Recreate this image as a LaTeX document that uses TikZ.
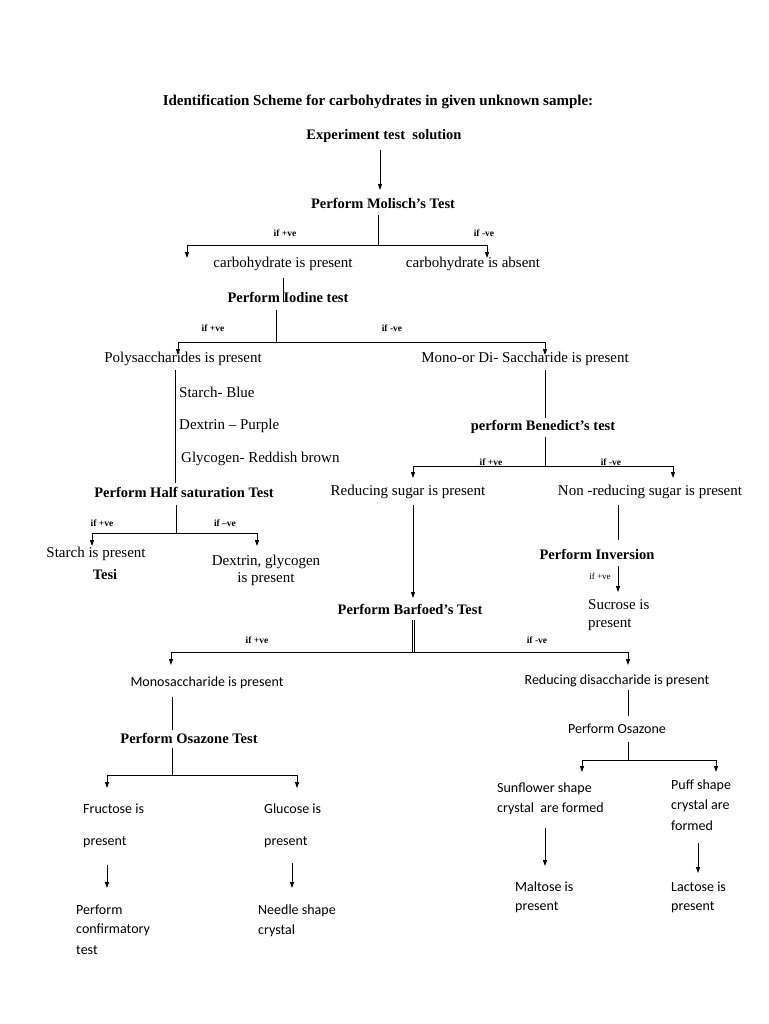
\documentclass[tikz,border=0pt]{standalone}
\usepackage{fontspec}
\setmainfont{Liberation Serif}
\newfontfamily\carlitofont{Carlito}
\usetikzlibrary{arrows.meta}
\begin{document}
\begin{tikzpicture}[x=1pt,y=-1pt,
  t/.style={inner sep=0pt,font=\fontsize{15}{17}\selectfont},
  b/.style={inner sep=0pt,font=\fontsize{14.5}{17}\selectfont\bfseries},
  sm/.style={inner sep=0pt,font=\fontsize{9.5}{10}\selectfont\bfseries},
  c/.style={inner sep=0pt,anchor=west,font=\carlitofont\fontsize{14}{16}\selectfont},
  ln/.style={line width=0.8pt},
  ar/.style={line width=0.8pt,-{Triangle[length=6pt,width=4pt]}}]
\useasboundingbox (0,0) rectangle (768,1024);
\node[b,font=\fontsize{15}{17}\selectfont\bfseries] (title) at (378,102) {Identification Scheme for carbohydrates in given unknown sample:};
\node[b] (exp) at (384,136) {Experiment test\ \ solution};
\node[b] (mol) at (383,203) {Perform Molisch's Test};
\draw[ar] (380,150) -- (380,190);
\draw[ln] (378,215) -- (378,245);
\draw[ar] (187,245) -- (187,258); \draw[ln] (187,245) -- (487,245); \draw[ar] (487,245) -- (487,258);
\node[sm] (p1) at (285,233) {if +ve}; \node[sm] (n1) at (484,233) {if -ve};
\node[t] (cp) at (283,264) {carbohydrate is present};
\node[t] (ca) at (473,264) {carbohydrate is absent};
\draw[ln] (283,278) -- (283,302);
\node[b] (iod) at (288,297) {Perform Iodine test};
\draw[ln] (276,310) -- (276,342);
\draw[ar] (178,342) -- (178,355); \draw[ln] (178,342) -- (545,342); \draw[ar] (545,342) -- (545,355);
\node[sm] (p2) at (213,328) {if +ve}; \node[sm] (n2) at (392,328) {if -ve};
\node[t] (poly) at (183,359) {Polysaccharides is present};
\node[t] (mono) at (525,359) {Mono-or Di- Saccharide is present};
\draw[ln] (175,370) -- (175,483);
\node[t,anchor=west] (s1) at (179,392) {Starch- Blue};
\node[t,anchor=west] (s2) at (179,426) {Dextrin -- Purple};
\node[t,anchor=west] (s3) at (181,459) {Glycogen- Reddish brown};
\draw[ln] (545,370) -- (545,418);
\node[b] (ben) at (543,427) {perform Benedict's test};
\draw[ln] (545,437) -- (545,466);
\draw[ar] (413,466) -- (413,478); \draw[ln] (413,466) -- (673,466); \draw[ar] (673,466) -- (673,478);
\node[sm] (p3) at (491,462) {if +ve}; \node[sm] (n3) at (611,462) {if -ve};
\node[b] (half) at (184,492) {Perform Half saturation Test};
\draw[ln] (176,505) -- (176,533);
\draw[ar] (92,533) -- (92,546); \draw[ln] (92,533) -- (257,533); \draw[ar] (257,533) -- (257,546);
\node[sm] (p4) at (102,523) {if +ve}; \node[sm] (n4) at (225,523) {if --ve};
\node[t] (red) at (408,492) {Reducing sugar is present};
\node[t] (nred) at (650,492) {Non -reducing sugar is present};
\node[t] (stp) at (96,554) {Starch is present};
\node[b] (tesi) at (105,575) {Tesi};
\node[t,align=center] (dex) at (266,570) {Dextrin, glycogen\\is present};
\draw[ar] (413,505) -- (413,598);
\draw[ln] (618,505) -- (618,540);
\node[b] (inv) at (597,554) {Perform Inversion};
\node[t,font=\fontsize{9}{10}\selectfont] (p5) at (600,576) {if +ve};
\draw[ar] (618,566) -- (618,592);
\node[t,anchor=west] (suc1) at (588,605) {Sucrose is};
\node[t,anchor=west] (suc2) at (588,625) {present};
\node[b] (barf) at (410,609) {Perform Barfoed's Test};
\draw[ln] (412,620) -- (412,652); \draw[ln] (414.5,620) -- (414.5,652);
\draw[ar] (171,652) -- (171,665); \draw[ln] (171,652) -- (628,652); \draw[ar] (628,652) -- (628,665);
\node[sm] (p6) at (257,640) {if +ve}; \node[sm] (n6) at (537,640) {if -ve};
\node[c,anchor=center] (ms) at (207,683) {Monosaccharide is present};
\node[c,anchor=center] (rd) at (617,681) {Reducing disaccharide is present};
\draw[ln] (172,697) -- (172,730);
\node[b] (osa) at (189,738) {Perform Osazone Test};
\draw[ln] (172,748) -- (172,775);
\draw[ar] (107,775) -- (107,788); \draw[ln] (107,775) -- (297,775); \draw[ar] (297,775) -- (297,788);
\draw[ln] (628,690) -- (628,716);
\node[c,anchor=center] (osa2) at (617,729) {Perform Osazone};
\draw[ln] (628,742) -- (628,760);
\draw[ar] (582,760) -- (582,772); \draw[ln] (582,760) -- (716,760); \draw[ar] (716,760) -- (716,772);
\node[c] (f1) at (83,809) {Fructose is};
\node[c] (f2) at (83,842) {present};
\draw[ar] (107,865) -- (107,888);
\node[c] (f3) at (76,910) {Perform};
\node[c] (f4) at (76,930) {confirmatory};
\node[c] (f5) at (76,950) {test};
\node[c] (g1) at (264,809) {Glucose is};
\node[c] (g2) at (264,842) {present};
\draw[ar] (292,863) -- (292,888);
\node[c] (g3) at (258,911) {Needle shape};
\node[c] (g4) at (258,931) {crystal};
\node[c] (sf1) at (497,789) {Sunflower shape};
\node[c] (sf2) at (497,809) {crystal\ \ are formed};
\draw[ar] (545,828) -- (545,866);
\node[c] (m1) at (515,887) {Maltose is};
\node[c] (m2) at (515,907) {present};
\node[c] (pf1) at (671,786) {Puff shape};
\node[c] (pf2) at (671,806) {crystal are};
\node[c] (pf3) at (671,826) {formed};
\draw[ar] (698,843) -- (698,873);
\node[c] (l1) at (671,887) {Lactose is};
\node[c] (l2) at (671,907) {present};
\end{tikzpicture}
\end{document}
